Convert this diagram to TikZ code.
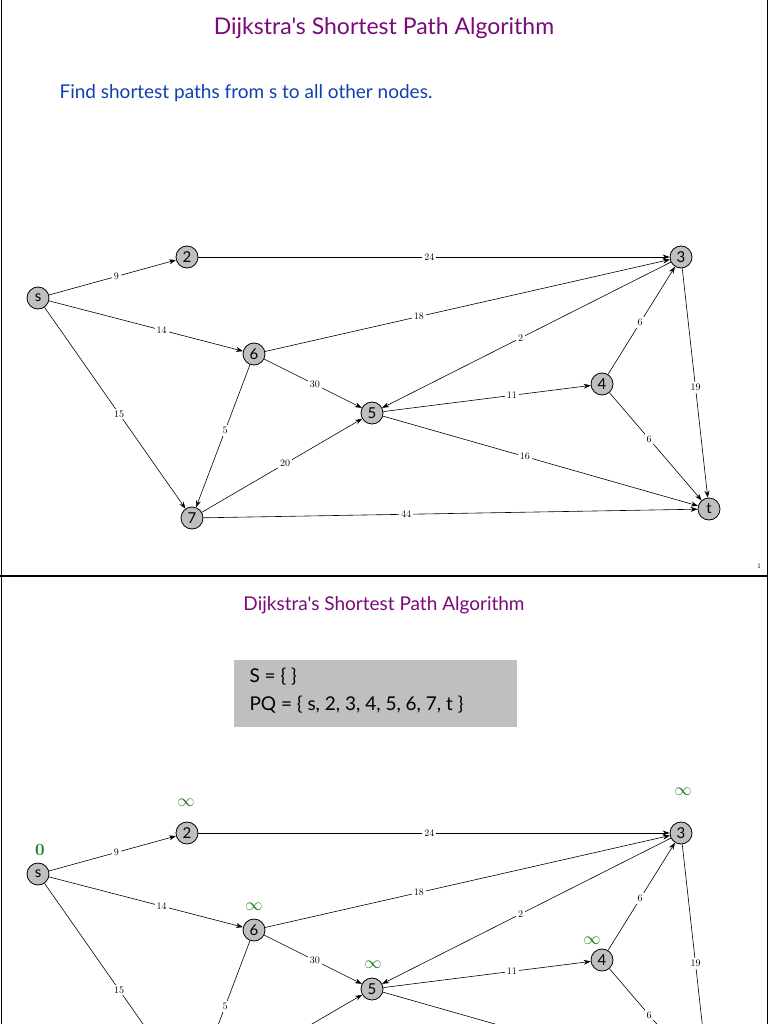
\documentclass[tikz,border=0pt]{standalone}
\usepackage{fontspec}
\newfontfamily\comic{Lato}
\usetikzlibrary{arrows.meta}
\definecolor{ttl}{HTML}{7A0A7A}
\definecolor{sub}{HTML}{1040B0}
\definecolor{grn}{HTML}{1A7A1A}
\tikzset{
 vert/.style={circle,draw,fill=black!25,line width=0.8pt,minimum size=22pt,inner sep=0pt,font=\comic\fontsize{15}{15}\selectfont},
 edge/.style={-{Stealth[length=7pt,width=5pt]},line width=0.6pt},
 lbl/.style={fill=white,inner sep=2pt,font=\fontsize{10}{10}\selectfont},
 dist/.style={text=grn,font=\fontsize{16}{16}\selectfont}
}
\newcommand{\graphdraw}[1]{%
 \node[vert] (#1s) at (38,298) {s};
 \node[vert] (#12) at (187,257) {2};
 \node[vert] (#13) at (681,257) {3};
 \node[vert] (#16) at (254,354) {6};
 \node[vert] (#15) at (372,413) {5};
 \node[vert] (#14) at (602,384) {4};
 \node[vert] (#17) at (192,518) {7};
 \node[vert] (#1t) at (709,509) {t};
 \draw[edge] (#1s) -- node[lbl,pos=0.53]{9} (#12);
 \draw[edge] (#12) -- node[lbl,pos=0.49]{24} (#13);
 \draw[edge] (#1s) -- node[lbl,pos=0.58]{14} (#16);
 \draw[edge] (#16) -- node[lbl,pos=0.38]{18} (#13);
 \draw[edge] (#13) -- node[lbl,pos=0.52]{2} (#15);
 \draw[edge] (#14) -- node[lbl,pos=0.48]{6} (#13);
 \draw[edge] (#16) -- node[lbl,pos=0.52]{30} (#15);
 \draw[edge] (#15) -- node[lbl,pos=0.62]{11} (#14);
 \draw[edge] (#13) -- node[lbl,pos=0.52]{19} (#1t);
 \draw[edge] (#1s) -- node[lbl,pos=0.53]{15} (#17);
 \draw[edge] (#16) -- node[lbl,pos=0.46]{5} (#17);
 \draw[edge] (#14) -- node[lbl,pos=0.43]{6} (#1t);
 \draw[edge] (#17) -- node[lbl,pos=0.52]{20} (#15);
 \draw[edge] (#15) -- node[lbl,pos=0.45]{16} (#1t);
 \draw[edge] (#17) -- node[lbl,pos=0.41]{44} (#1t);
}
\begin{document}
\begin{tikzpicture}[x=1pt,y=-1pt]
\useasboundingbox (0,0) rectangle (768,1024);
\fill[white] (0,0) rectangle (768,1024);
% slide frames
\draw[line width=1pt] (1,0) -- (1,1024);
\draw[line width=1pt] (767,0) -- (767,1024);
\draw[line width=2.2pt] (0,576) -- (768,576);
% slide 1
\node[text=ttl,font=\comic\fontsize{23}{23}\selectfont] (t1) at (384,28) {Dijkstra's Shortest Path Algorithm};
\node[text=sub,anchor=west,font=\comic\fontsize{19}{19}\selectfont] (sub1) at (56,93) {Find shortest paths from s to all other nodes.};
\node[font=\fontsize{7}{7}\selectfont] (pg1) at (759,566) {1};
\graphdraw{a}
% slide 2
\node[text=ttl,font=\comic\fontsize{19}{19}\selectfont] (t2) at (384,605) {Dijkstra's Shortest Path Algorithm};
\node[fill=black!25,minimum width=283pt,minimum height=67pt] (box) at (375.5,693.5) {};
\node[anchor=west,font=\comic\fontsize{19}{19}\selectfont] (sset) at (246,677) {S = \{ \}};
\node[anchor=west,font=\comic\fontsize{19}{19}\selectfont] (pq) at (246,705) {PQ = \{ s, 2, 3, 4, 5, 6, 7, t \}};
\begin{scope}
\clip (2,578) rectangle (766,1024);
\begin{scope}[yshift=-576pt]
\graphdraw{b}
\end{scope}
\end{scope}
\node[dist,font=\bfseries\fontsize{17}{17}\selectfont] (d0) at (40,850) {0};
\node[dist] (d2) at (186,803) {$\infty$};
\node[dist] (d3) at (683,792) {$\infty$};
\node[dist] (d6) at (254,907) {$\infty$};
\node[dist] (d5) at (373,965) {$\infty$};
\node[dist] (d4) at (592,941) {$\infty$};
\end{tikzpicture}
\end{document}
